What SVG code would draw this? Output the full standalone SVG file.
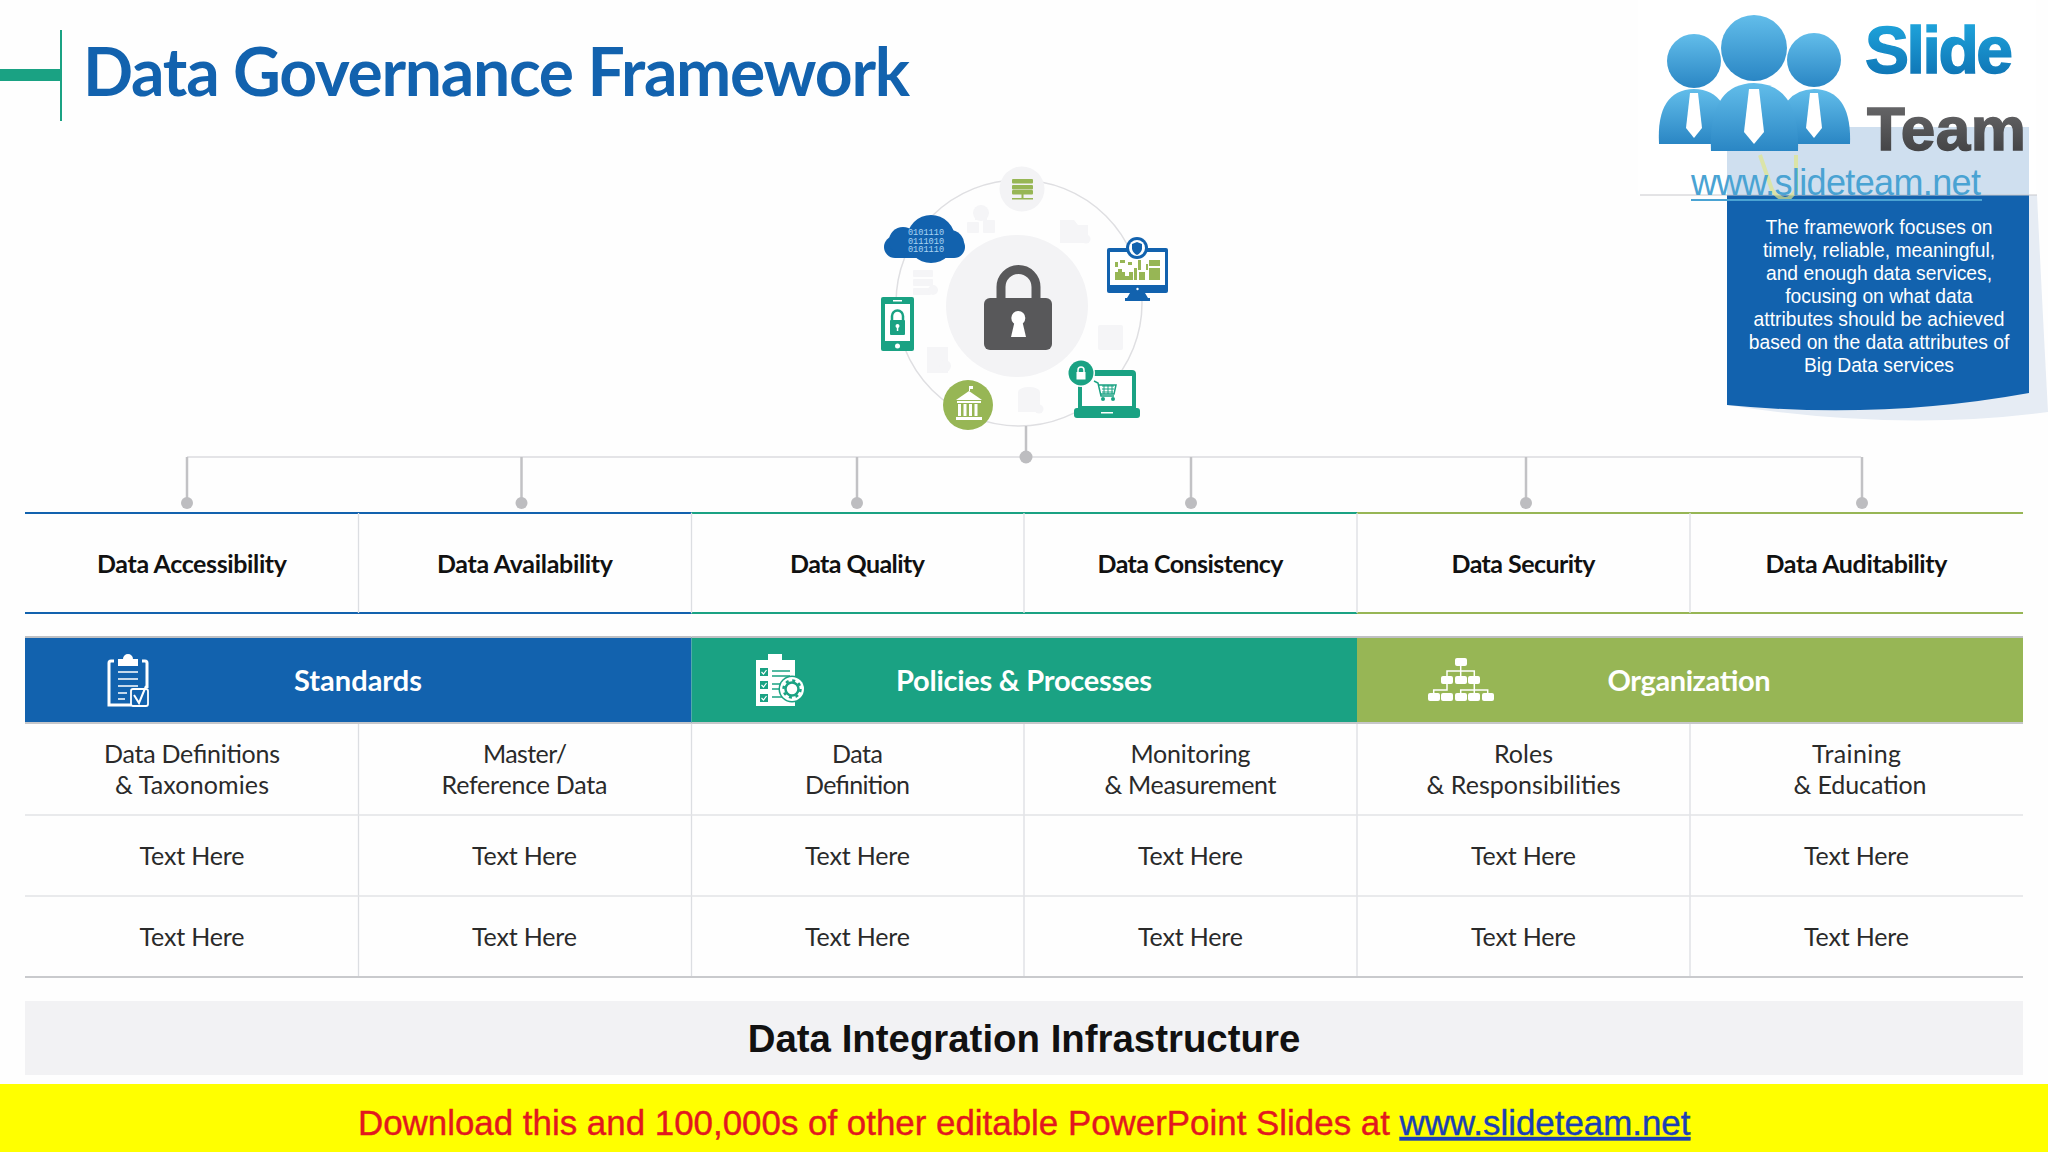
<svg xmlns="http://www.w3.org/2000/svg" width="2048" height="1152" viewBox="0 0 2048 1152">
<style>
.h{font-family:Lato,"Liberation Sans",sans-serif;font-weight:700;font-size:25px;fill:#111;text-anchor:middle}
.t{font-family:Lato,"Liberation Sans",sans-serif;font-size:25px;fill:#2a2a2a;text-anchor:middle}
.b{font-family:Lato,"Liberation Sans",sans-serif;font-weight:700;font-size:29px;fill:#fff;text-anchor:middle}
.p{font-family:"Liberation Sans",Arial,sans-serif;font-size:19.300px;fill:#fff;text-anchor:middle}
.dig{font-family:"Liberation Mono",monospace;font-size:8.600px;fill:#a9d4f2;text-anchor:middle}
.v{stroke:#dcdee2;stroke-width:1.300}
.r{stroke:#e2e3e6;stroke-width:1.500}
.c{stroke:#c2c2c5;stroke-width:2.500;fill:none}
.d{fill:#bdbdc0}
.f{fill:#f3f3f5}
.w{fill:#fff}
</style>
<defs>
<linearGradient id="gb" x1="0" y1="0" x2="0" y2="1"><stop offset="0" stop-color="#62bdea"/><stop offset="1" stop-color="#2a86c4"/></linearGradient>
<linearGradient id="gs" x1="0" y1="0" x2="0" y2="1"><stop offset="0" stop-color="#21ace2"/><stop offset="1" stop-color="#0c6cae"/></linearGradient>
<linearGradient id="gt" x1="0" y1="0" x2="0" y2="1"><stop offset="0" stop-color="#6e6e70"/><stop offset="1" stop-color="#3c3c3e"/></linearGradient>
</defs>
<rect width="2048" height="1152" fill="#fefefe"/>

<g id="title">
<rect x="0" y="69" width="61" height="12" fill="#1aa283"/>
<rect x="60" y="30" width="2" height="91" fill="#1aa283"/>
<text x="83" y="96" font-family="Lato,'Liberation Sans',sans-serif" font-weight="700" font-size="66" fill="#1262ae" textLength="827">Data Governance Framework</text>
</g>

<g id="note">
<path d="M2029 195H2037Q2042 300 2048 412Q1900 432 1727 405V390H2029Z" fill="#e6ecf4"/>
<path d="M1727 127H2029V393Q1880 420 1727 405Z" fill="#1262ae"/>
<text class="p"><tspan x="1879" y="234">The framework focuses on</tspan><tspan x="1879" y="257">timely, reliable, meaningful,</tspan><tspan x="1879" y="280">and enough data services,</tspan><tspan x="1879" y="303">focusing on what data</tspan><tspan x="1879" y="326">attributes should be achieved</tspan><tspan x="1879" y="349">based on the data attributes of</tspan><tspan x="1879" y="372">Big Data services</tspan></text>
</g>

<g id="logo">
<rect x="1638" y="0" width="398" height="195" fill="#fff" opacity=".8"/>
<path d="M1640 195H2037" stroke="#c8c8cc" stroke-width="1"/>
<path d="M1760 155L1772 190Q1786 208 1796 190V155" fill="none" stroke="#dfe58a" stroke-width="4" opacity=".7"/>
<circle cx="1694" cy="61" r="27" fill="url(#gb)"/>
<circle cx="1814" cy="60" r="27" fill="url(#gb)"/>
<path d="M1659 144Q1656 90 1694 89Q1732 90 1730 144Z" fill="url(#gb)"/>
<path d="M1778 144Q1776 90 1814 89Q1852 90 1850 144Z" fill="url(#gb)"/>
<circle cx="1754" cy="48" r="33" fill="url(#gb)"/>
<path d="M1711 151Q1708 84 1754 83Q1800 84 1798 151Z" fill="url(#gb)"/>
<path d="M1690 93H1698L1702 128L1694 138L1686 128Z" class="w"/>
<path d="M1749 89H1759L1764 132L1754 144L1744 132Z" class="w"/>
<path d="M1810 93H1818L1822 128L1814 138L1806 128Z" class="w"/>
<text x="1865" y="73" font-family="'Liberation Sans',sans-serif" font-weight="700" font-size="66" fill="url(#gs)" stroke="url(#gs)" stroke-width="1.500" textLength="148">Slide</text>
<text x="1867" y="150" font-family="'Liberation Sans',sans-serif" font-weight="700" font-size="62" fill="url(#gt)" stroke="url(#gt)" stroke-width="1.500" textLength="159">Team</text>
<text x="1691" y="195" font-family="'Liberation Sans',sans-serif" font-size="36" fill="#4aa3d3" textLength="290">www.slideteam.net</text>
<rect x="1691" y="199" width="291" height="2" fill="#4aa3d3"/>
</g>

<g id="connectors">
<circle cx="1019" cy="303" r="123" fill="none" stroke="#dfdfe2" stroke-width="1.500"/>
<path class="c" d="M1026 426V457"/>
<path d="M187 457H1861" stroke="#e4e4e7" stroke-width="2" fill="none"/>
<path class="c" d="M187 457V503M521.500 457V503M857 457V503M1191 457V503M1526 457V503M1862 457V503"/>
<circle class="d" cx="1026" cy="457" r="6.500"/>
<circle class="d" cx="187" cy="503" r="6"/><circle class="d" cx="521.500" cy="503" r="6"/><circle class="d" cx="857" cy="503" r="6"/><circle class="d" cx="1191" cy="503" r="6"/><circle class="d" cx="1526" cy="503" r="6"/><circle class="d" cx="1862" cy="503" r="6"/>
</g>

<g id="hub">
<circle class="f" cx="1017" cy="306" r="71"/>
<path d="M1001 300V287a17.500 17.500 0 0 1 35 0V300" fill="none" stroke="#58585a" stroke-width="9"/>
<rect x="984" y="298" width="68" height="52" rx="6" fill="#58585a"/>
<circle cx="1018.300" cy="318" r="7" fill="#fff"/>
<path d="M1015 320H1022L1026 337H1011Z" fill="#fff"/>
</g>

<g id="faint-icons" fill="#f5f5f7">
<circle cx="981" cy="213" r="8"/><rect x="975" y="212" width="12" height="8"/>
<rect x="967" y="222" width="12" height="11" rx="1"/><rect x="983" y="220" width="12" height="13" rx="1"/>
<path d="M1060 220H1074L1078 225H1088V243H1060Z"/>
<circle cx="1086" cy="239" r="4.500"/>
<rect x="913" y="270" width="20" height="7" rx="1"/><rect x="913" y="279" width="20" height="7" rx="1"/><rect x="913" y="288" width="18" height="7" rx="1"/>
<circle cx="933" cy="290" r="5"/>
<rect x="1098" y="325" width="25" height="25" rx="2"/>
<path d="M927 347H948V373H927Z"/>
<circle cx="945" cy="366" r="6"/>
<ellipse cx="1029" cy="392" rx="11" ry="5"/><rect x="1018" y="392" width="22" height="20"/>
<circle cx="1039" cy="409" r="4.500"/>
</g>

<g id="icon-server">
<circle class="f" cx="1022" cy="189" r="22.500"/>
<g fill="#97b655">
<rect x="1012" y="179" width="21" height="4.500" rx="1"/><rect x="1012" y="185" width="21" height="4.500" rx="1"/><rect x="1012" y="190" width="21" height="4.500" rx="1"/>
<rect x="1021.500" y="194" width="2" height="4"/><rect x="1012" y="198" width="21" height="1.500"/>
</g>
</g>

<g id="icon-cloud">
<g fill="#1262ae">
<rect x="884" y="236" width="81" height="22" rx="11"/>
<circle cx="903" cy="241" r="14"/><circle cx="931" cy="239" r="24"/><circle cx="950" cy="244" r="14"/>
</g>
<text class="dig"><tspan x="926" y="235">0101110</tspan><tspan x="926" y="243.500">0111010</tspan><tspan x="926" y="252">0101110</tspan></text>
</g>

<g id="icon-monitor">
<rect x="1107" y="248" width="61" height="45" rx="2" fill="#1262ae"/>
<rect x="1110" y="252" width="55" height="33" fill="#fff"/>
<path d="M1130 293H1145L1148 298H1150V301H1125V298H1127Z" fill="#1262ae"/>
<circle cx="1137.500" cy="289" r="1.200" fill="#fff"/>
<path d="M1115 280V272H1118V269H1122V272H1125V276H1129V272H1133V280ZM1115 262H1118V267H1115ZM1120 260H1125V263H1120ZM1128 262H1132V265H1128ZM1138 260H1141V270H1138ZM1134 268H1137V280H1134ZM1139 272H1145V280H1139ZM1149 268H1160V280H1149ZM1149 260H1160V266H1149ZM1146 264H1148V270H1146Z" fill="#97b655"/>
<circle cx="1137" cy="248" r="11" fill="#1262ae"/><circle cx="1137" cy="248" r="8" fill="#fff"/>
<path d="M1137 242L1142 244V249Q1141 253 1137 255Q1133 253 1132 249V244Z" fill="#1262ae"/>
</g>

<g id="icon-phone">
<rect x="881" y="297" width="33" height="54" rx="2" fill="#1aa283"/>
<rect x="885" y="304" width="25" height="37" fill="#fff"/>
<circle cx="897.500" cy="346" r="2.500" fill="#fff"/>
<rect x="893" y="300" width="9" height="1.500" fill="#fff"/>
<path d="M892 321V316a5.500 5.500 0 0 1 11 0V321" fill="none" stroke="#1aa283" stroke-width="2.500"/>
<rect x="890" y="320" width="15" height="15" rx="1" fill="#1aa283"/>
<circle cx="897.500" cy="326" r="2" fill="#fff"/><rect x="896.800" y="326" width="1.500" height="5" fill="#fff"/>
</g>

<g id="icon-bank">
<circle cx="968" cy="405" r="25" fill="#97b655"/>
<path d="M956 400L969 391L982 400Z" class="w"/>
<path d="M969 391V386H973V389H970V391Z" class="w"/>
<path d="M957 401H981V403H957ZM958 404H961V416H958ZM963.500 404H966.500V416H963.500ZM969 404H972V416H969ZM974.500 404H977.500V416H974.500ZM956 417H982V420H956Z" class="w"/>
</g>

<g id="icon-laptop">
<rect x="1078" y="370" width="58" height="42" rx="4" fill="#1aa283"/>
<rect x="1082" y="376" width="50" height="30" fill="#fff"/>
<rect x="1074" y="408" width="66" height="10" rx="3" fill="#1aa283"/>
<rect x="1101" y="412" width="12" height="1.500" fill="#fff"/>
<path d="M1094 381L1098 383L1101 396H1114M1099 385H1116L1114 394H1101" fill="none" stroke="#1aa283" stroke-width="1.500"/>
<path d="M1102 386H1114M1102 389H1114M1102 392H1113M1104 385V394M1108 385V394M1112 385V394" stroke="#1aa283" stroke-width="1"/>
<circle cx="1103" cy="399" r="2" fill="#1aa283"/><circle cx="1113" cy="399" r="2" fill="#1aa283"/>
<circle cx="1081" cy="373" r="14" fill="#fff"/><circle cx="1081" cy="373" r="12.500" fill="#1aa283"/>
<path d="M1078 373V370a3 3 0 0 1 6 0V373" fill="none" stroke="#fff" stroke-width="1.500"/>
<rect x="1076.500" y="372" width="9" height="7.500" fill="#fff"/>
</g>

<g id="grid-lines">
<path d="M25 513H691.500M25 613H691.500" stroke="#1262ae" stroke-width="2"/>
<path d="M691.500 513H1357M691.500 613H1357" stroke="#1aa283" stroke-width="2"/>
<path d="M1357 513H2023M1357 613H2023" stroke="#97b655" stroke-width="2"/>
<path class="v" d="M358.500 513V613M691.500 513V613M1024 513V613M1357 513V613M1690 513V613"/>
<path class="v" d="M358.500 722V977M691.500 722V977M1024 722V977M1357 722V977M1690 722V977"/>
<path class="r" d="M25 815H2023M25 896H2023"/>
<path d="M25 977H2023" stroke="#c9cacd" stroke-width="2"/>
</g>

<g id="attr-accessibility"><text class="h" x="192" y="573" textLength="190">Data Accessibility</text></g>
<g id="attr-availability"><text class="h" x="525" y="573" textLength="176">Data Availability</text></g>
<g id="attr-quality"><text class="h" x="857.500" y="573" textLength="135">Data Quality</text></g>
<g id="attr-consistency"><text class="h" x="1190.500" y="573" textLength="186">Data Consistency</text></g>
<g id="attr-security"><text class="h" x="1523.500" y="573" textLength="144">Data Security</text></g>
<g id="attr-auditability"><text class="h" x="1856.500" y="573" textLength="182">Data Auditability</text></g>

<g id="band-standards">
<rect x="25" y="637" width="666.500" height="86" fill="#1262ae"/>
<path d="M25 637H691.500" stroke="#bfc0c3" stroke-width="2"/>
<path d="M25 723H691.500" stroke="#c6c7ca" stroke-width="2"/>
<path d="M114 661H111a2 2 0 0 0 -2 2V705H131M142 661H145a2 2 0 0 1 2 2V688" fill="none" stroke="#fff" stroke-width="3"/>
<path d="M118 659H123a5 5 0 0 1 10 0H138V666H118Z" class="w"/>
<path d="M118 672H138M118 679H138M118 686H138M118 693H127M118 699H125" stroke="#fff" stroke-width="1.500"/>
<rect x="131" y="689" width="17" height="17" rx="2" fill="none" stroke="#fff" stroke-width="1.800"/>
<path d="M134 695L139 703L146 686" fill="none" stroke="#fff" stroke-width="2"/>
<text class="b" x="358" y="691" textLength="128">Standards</text>
</g>

<g id="band-policies">
<rect x="691.500" y="637" width="665.500" height="86" fill="#1aa283"/>
<path d="M691.500 637H1357" stroke="#bfc0c3" stroke-width="2"/>
<path d="M691.500 723H1357" stroke="#c6c7ca" stroke-width="2"/>
<path d="M756 660H768V654H782V660H795V706H756Z" class="w"/>
<path d="M760 668H768V676H760ZM760 681H768V689H760ZM760 694H768V702H760Z" fill="#1aa283"/>
<path d="M761.500 672L763.500 674L766.500 670M761.500 685L763.500 687L766.500 683M761.500 698L763.500 700L766.500 696" fill="none" stroke="#fff" stroke-width="1.200"/>
<path d="M772 671H790M772 676H790M772 684H785M772 689H785M772 697H782" stroke="#1aa283" stroke-width="1.500"/>
<circle cx="792" cy="689" r="13.500" fill="#1aa283"/>
<circle cx="792" cy="689" r="12" class="w"/>
<circle cx="792" cy="689" r="6.500" fill="none" stroke="#1aa283" stroke-width="2.500"/>
<circle cx="792" cy="689" r="8.500" fill="none" stroke="#1aa283" stroke-width="2.500" stroke-dasharray="3 3.670"/>
<text class="b" x="1024" y="691" textLength="256">Policies &amp; Processes</text>
</g>

<g id="band-organization">
<rect x="1357" y="637" width="666" height="86" fill="#97b655"/>
<path d="M1357 637H2023" stroke="#bfc0c3" stroke-width="2"/>
<path d="M1357 723H2023" stroke="#c6c7ca" stroke-width="2"/>
<path d="M1460.700 665V676M1447 676V671H1474.300V676M1447 684V690H1433.700V694M1474.300 684V694M1460.700 694V690H1487.700V694" fill="none" stroke="#fff" stroke-width="1.500"/>
<g class="w">
<rect x="1455" y="658" width="12" height="8" rx="2"/>
<rect x="1441" y="676" width="12" height="8" rx="2"/><rect x="1455" y="676" width="12" height="8" rx="2"/><rect x="1468" y="676" width="12" height="8" rx="2"/>
<rect x="1428" y="693" width="12" height="8" rx="2"/><rect x="1441" y="693" width="12" height="8" rx="2"/><rect x="1455" y="693" width="12" height="8" rx="2"/><rect x="1468" y="693" width="12" height="8" rx="2"/><rect x="1482" y="693" width="12" height="8" rx="2"/>
</g>
<text class="b" x="1689" y="691" textLength="163">Organization</text>
</g>

<g id="cell-r1c1"><text class="t"><tspan x="192" y="763" textLength="176">Data Definitions</tspan><tspan x="192" y="794" textLength="154">&amp; Taxonomies</tspan></text></g>
<g id="cell-r1c2"><text class="t"><tspan x="525" y="763" textLength="84">Master/</tspan><tspan x="524.500" y="794" textLength="166">Reference Data</tspan></text></g>
<g id="cell-r1c3"><text class="t"><tspan x="857.500" y="763" textLength="51">Data</tspan><tspan x="857.500" y="794" textLength="105">Definition</tspan></text></g>
<g id="cell-r1c4"><text class="t"><tspan x="1190.500" y="763" textLength="120">Monitoring</tspan><tspan x="1190.500" y="794" textLength="172">&amp; Measurement</tspan></text></g>
<g id="cell-r1c5"><text class="t"><tspan x="1523.500" y="763" textLength="59">Roles</tspan><tspan x="1523.500" y="794" textLength="194">&amp; Responsibilities</tspan></text></g>
<g id="cell-r1c6"><text class="t"><tspan x="1856.500" y="763" textLength="89">Training</tspan><tspan x="1860" y="794" textLength="133">&amp; Education</tspan></text></g>

<g id="cell-r2c1"><text class="t" x="192" y="865" textLength="105">Text Here</text></g>
<g id="cell-r2c2"><text class="t" x="524.500" y="865" textLength="105">Text Here</text></g>
<g id="cell-r2c3"><text class="t" x="857.500" y="865" textLength="105">Text Here</text></g>
<g id="cell-r2c4"><text class="t" x="1190.500" y="865" textLength="105">Text Here</text></g>
<g id="cell-r2c5"><text class="t" x="1523.500" y="865" textLength="105">Text Here</text></g>
<g id="cell-r2c6"><text class="t" x="1856.500" y="865" textLength="105">Text Here</text></g>
<g id="cell-r3c1"><text class="t" x="192" y="946" textLength="105">Text Here</text></g>
<g id="cell-r3c2"><text class="t" x="524.500" y="946" textLength="105">Text Here</text></g>
<g id="cell-r3c3"><text class="t" x="857.500" y="946" textLength="105">Text Here</text></g>
<g id="cell-r3c4"><text class="t" x="1190.500" y="946" textLength="105">Text Here</text></g>
<g id="cell-r3c5"><text class="t" x="1523.500" y="946" textLength="105">Text Here</text></g>
<g id="cell-r3c6"><text class="t" x="1856.500" y="946" textLength="105">Text Here</text></g>

<g id="infrastructure">
<rect x="25" y="1001" width="1998" height="74" fill="#f2f2f4"/>
<text x="1024" y="1052" text-anchor="middle" font-family="'Liberation Sans',sans-serif" font-weight="700" font-size="38.400" fill="#111">Data Integration Infrastructure</text>
</g>

<g id="banner">
<rect x="0" y="1084" width="2048" height="68" fill="#ffff00"/>
<text x="358" y="1135" font-family="'Liberation Sans',sans-serif" font-size="34.900" fill="#e2181f" stroke="#e2181f" stroke-width=".4">Download this and 100,000s of other editable PowerPoint Slides at <tspan fill="#1c3fb5" stroke="#1c3fb5" text-decoration="underline">www.slideteam.net</tspan></text>
</g>
</svg>
